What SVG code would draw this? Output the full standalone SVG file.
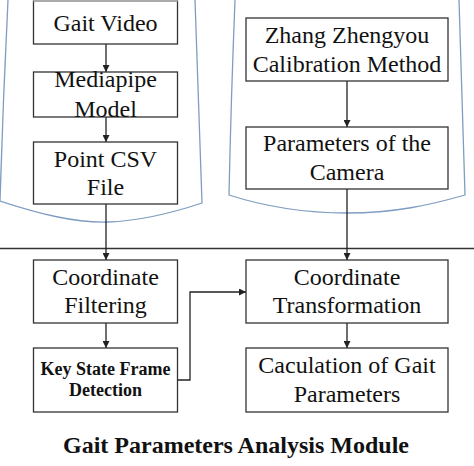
<svg xmlns="http://www.w3.org/2000/svg" width="474" height="466" viewBox="0 0 474 466">
<style>
.box{fill:#fff;stroke:#333;stroke-width:1.3}
text{font-family:'Liberation Serif','Times New Roman','DejaVu Serif',serif;font-size:24px;fill:#111;text-anchor:middle}
.b{font-weight:bold;font-size:18px}
.ti{font-weight:bold;font-size:24px}
.c{fill:none;stroke:#222;stroke-width:1.3}
.g{fill:none;stroke:#7f9dc2;stroke-width:1.3}
</style>
<defs>
<marker id="ah" viewBox="0 0 10 10" refX="10" refY="5" markerWidth="7" markerHeight="7" markerUnits="userSpaceOnUse" orient="auto">
<path d="M0,0 L10,5 L0,10 z" fill="#222"/>
</marker>
</defs>
<rect width="474" height="466" fill="#fff"/>
<g id="regions">
<path class="g" d="M8,0 Q3,100 0,201 C40,214 75,223 108,222 C140,221 175,212 202,203 L195,0"/>
<path class="g" d="M235,0 Q231,100 229,195 C260,205 300,213 347,213 C395,213 430,205 465,195 Q462,100 459,0"/>
</g>
<line x1="0" y1="248.5" x2="474" y2="248.5" stroke="#333" stroke-width="1.3"/>
<g id="connectors">
<line class="c" x1="106" y1="44" x2="106" y2="72" marker-end="url(#ah)"/>
<line class="c" x1="106" y1="117" x2="106" y2="142" marker-end="url(#ah)"/>
<line class="c" x1="106" y1="204" x2="106" y2="260" marker-end="url(#ah)"/>
<line class="c" x1="106" y1="323" x2="106" y2="348" marker-end="url(#ah)"/>
<line class="c" x1="347" y1="81" x2="347" y2="127" marker-end="url(#ah)"/>
<line class="c" x1="347" y1="189" x2="347" y2="260" marker-end="url(#ah)"/>
<line class="c" x1="347" y1="323" x2="347" y2="348" marker-end="url(#ah)"/>
<polyline class="c" points="178,380 190,380 190,292 246,292" marker-end="url(#ah)"/>
</g>
<g font-family="Liberation Serif, serif">
<g id="gait-video">
<rect class="box" x="33.5" y="1" width="144" height="43"/>
<line x1="33.5" y1="1" x2="177.5" y2="1" stroke="#aaa" stroke-width="2"/>
<text x="105.5" y="31">Gait Video</text>
</g>
<g id="mediapipe">
<rect class="box" x="33.5" y="72" width="144" height="45"/>
<text x="105.5" y="87">Mediapipe</text>
<text x="105.5" y="117">Model</text>
</g>
<g id="point-csv">
<rect class="box" x="33.5" y="142" width="144" height="62"/>
<text x="105.5" y="167">Point CSV</text>
<text x="105.5" y="195">File</text>
</g>
<g id="zhang">
<rect class="box" x="246" y="18" width="202" height="63"/>
<text x="347" y="43">Zhang Zhengyou</text>
<text x="347" y="72">Calibration Method</text>
</g>
<g id="camera-params">
<rect class="box" x="246" y="127" width="202" height="62"/>
<text x="347" y="151">Parameters of the</text>
<text x="347" y="180">Camera</text>
</g>
<g id="coord-filtering">
<rect class="box" x="33.5" y="260" width="144" height="63"/>
<text x="105.5" y="285">Coordinate</text>
<text x="105.5" y="313">Filtering</text>
</g>
<g id="key-state">
<rect class="box" x="33.5" y="348" width="144" height="64"/>
<text class="b" x="105.5" y="375">Key State Frame</text>
<text class="b" x="105.5" y="396">Detection</text>
</g>
<g id="coord-transform">
<rect class="box" x="246" y="260" width="202" height="63"/>
<text x="347" y="285">Coordinate</text>
<text x="347" y="313">Transformation</text>
</g>
<g id="gait-calc">
<rect class="box" x="246" y="348" width="202" height="64"/>
<text x="347" y="373">Caculation of Gait</text>
<text x="347" y="402">Parameters</text>
</g>
<text class="ti" x="236" y="453">Gait Parameters Analysis Module</text>
</g>
</svg>
